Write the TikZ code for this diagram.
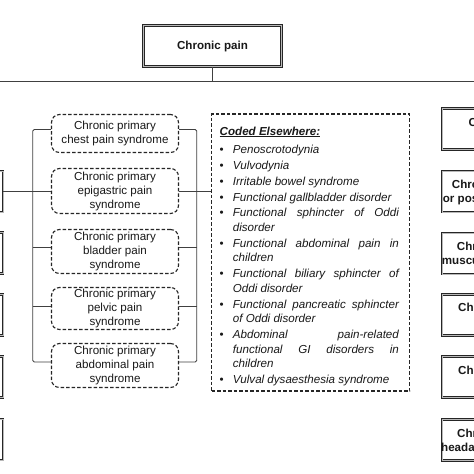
\documentclass[tikz,border=0pt]{standalone}
\usepackage{fontspec}
\setmainfont{Liberation Sans}
\begin{document}
\begin{tikzpicture}[x=1pt,y=-1pt,
  every node/.style={font=\fontsize{11.6}{14}\selectfont, text=black!90},
  solidbox/.style={draw=black!85, double=gray!55, line width=0.9pt, double distance=1pt, inner sep=0pt, minimum width=138pt, minimum height=41pt},
  dbox/.style={draw=black!85, dash pattern=on 3.5pt off 2pt, line width=1.1pt, rounded corners=8pt, minimum width=127pt, align=center, inner sep=0pt},
  drect/.style={draw=black!85, dash pattern=on 3.5pt off 2pt, line width=1.1pt, inner sep=0pt, minimum width=198pt, minimum height=277pt},
  conn/.style={draw=black!75, line width=0.9pt},
  lline/.style={anchor=base west, inner sep=0pt, font=\fontsize{11.6}{14}\selectfont\itshape},
  bul/.style={anchor=base west, inner sep=0pt},
  rtext/.style={anchor=base west, inner sep=0pt, font=\fontsize{11.6}{14}\selectfont\bfseries}]
\useasboundingbox (0,0) rectangle (474,474);
\clip (0,0) rectangle (474,474);
\fill[white] (0,0) rectangle (474,474);

% top
\node[solidbox, font=\fontsize{11.6}{14}\selectfont\bfseries] (cp) at (212.5,46) {Chronic pain};
\coordinate (hlL) at (-5,81);
\coordinate (hlR) at (480,81);
\draw[conn] (hlL) -- (hlR);
\draw[conn] (cp.south) -- (cp.south |- hlL);

% left solid boxes (cut off)
\node[solidbox] (L1) at (-66,191.5) {};
\node[solidbox] (L2) at (-66,253) {};
\node[solidbox] (L3) at (-66,315) {};
\node[solidbox] (L4) at (-66,377) {};
\node[solidbox] (L5) at (-66,439.5) {};

% right solid boxes (cut off)
\node[solidbox] (R1) at (511,129) {};
\node[solidbox] (R2) at (511,191.5) {};
\node[solidbox] (R3) at (511,253.5) {};
\node[solidbox] (R4) at (511,315) {};
\node[solidbox] (R5) at (511,377) {};
\node[solidbox] (R6) at (511,440) {};
\node[rtext] (r1a) at (468.3,126.5) {Chronic cancer-};
\node[rtext] (r2a) at (451.7,188.5) {Chronic postsurgical};
\node[rtext] (r2b) at (442.7,202.5) {or posttraumatic pain};
\node[rtext] (r3a) at (456.7,250) {Chronic secondary};
\node[rtext] (r3b) at (441.7,264) {musculoskeletal pain};
\node[rtext] (r4a) at (458,311) {Chronic secondary};
\node[rtext] (r5a) at (458,374) {Chronic neuropathic};
\node[rtext] (r6a) at (457,437) {Chronic secondary};
\node[rtext] (r6b) at (441,451) {headache or orofacial pain};

% dashed rounded boxes
\node[dbox, minimum height=38pt] (b1) at (115,133.5) {Chronic primary\\chest pain syndrome};
\node[dbox, minimum height=45pt] (b2) at (115,191) {Chronic primary\\epigastric pain\\syndrome};
\node[dbox, minimum height=44pt] (b3) at (115,251.5) {Chronic primary\\bladder pain\\syndrome};
\node[dbox, minimum height=42pt] (b4) at (115,308.5) {Chronic primary\\pelvic pain\\syndrome};
\node[dbox, minimum height=44pt] (b5) at (115,365.5) {Chronic primary\\abdominal pain\\syndrome};

% coded elsewhere box
\node[drect] (ce) at (310.5,252.5) {};

% brackets
\coordinate (ls) at (32.7,0);
\coordinate (rs) at (196.7,0);
\coordinate (y1) at (0,129.5);
\coordinate (y2) at (0,191.5);
\coordinate (y3) at (0,247);
\coordinate (y4) at (0,306.5);
\coordinate (y5) at (0,362);
\draw[conn, rounded corners=1.5pt] (b1.west |- y1) -- (ls |- y1) -- (ls |- y5) -- (b5.west |- y5);
\draw[conn] (L1.east |- y2) -- (b2.west |- y2);
\draw[conn] (ls |- y3) -- (b3.west |- y3);
\draw[conn] (ls |- y4) -- (b4.west |- y4);
\draw[conn, rounded corners=1.5pt] (b1.east |- y1) -- (rs |- y1) -- (rs |- y5) -- (b5.east |- y5);
\draw[conn] (b2.east |- y2) -- (ce.west |- y2);
\draw[conn] (b3.east |- y3) -- (rs |- y3);
\draw[conn] (b4.east |- y4) -- (rs |- y4);

% list
\node[bul, font=\fontsize{11.6}{14}\selectfont\bfseries\itshape] (ceh) at (219.5,135) {\underline{Coded Elsewhere:}};
\foreach \y/\n in {153.3/1,169.2/2,185.1/3,201.0/4,216.9/5,247.3/6,277.7/7,308.1/8,338.5/9,383.4/10}
  \node[bul] (bu\n) at (219.5,\y) {•};
\node[lline] (l1) at (232.7,153.3) {Penoscrotodynia};
\node[lline] (l2) at (232.7,169.2) {Vulvodynia};
\node[lline] (l3) at (232.7,185.1) {Irritable bowel syndrome};
\node[lline] (l4) at (232.7,201.0) {Functional gallbladder disorder};
\node[lline] (l5) at (232.7,216.9) {\makebox[166pt][s]{Functional sphincter of Oddi}};
\node[lline] (l6) at (232.7,231.4) {disorder};
\node[lline] (l7) at (232.7,247.3) {\makebox[166pt][s]{Functional abdominal pain in}};
\node[lline] (l8) at (232.7,261.8) {children};
\node[lline] (l9) at (232.7,277.7) {\makebox[166pt][s]{Functional biliary sphincter of}};
\node[lline] (l10) at (232.7,292.2) {Oddi disorder};
\node[lline] (l11) at (232.7,308.1) {\makebox[166pt][s]{Functional pancreatic sphincter}};
\node[lline] (l12) at (232.7,322.6) {of Oddi disorder};
\node[lline] (l13) at (232.7,338.5) {\makebox[166pt][s]{Abdominal pain-related}};
\node[lline] (l14) at (232.7,353.0) {\makebox[166pt][s]{functional GI disorders in}};
\node[lline] (l15) at (232.7,367.5) {children};
\node[lline] (l16) at (232.7,383.4) {Vulval dysaesthesia syndrome};
\end{tikzpicture}
\end{document}
